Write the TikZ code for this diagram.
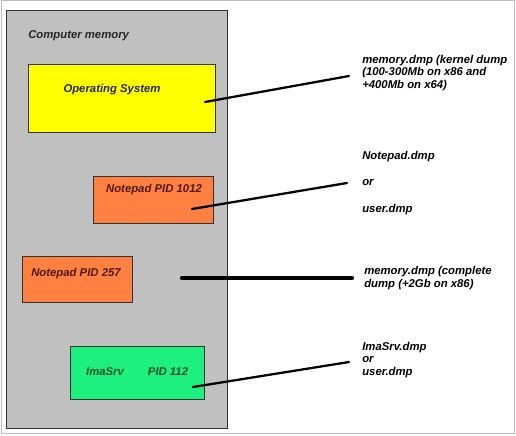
\documentclass[tikz,border=0pt]{standalone}
\usepackage{fontspec}
\setmainfont{Liberation Sans}
\definecolor{memgray}{RGB}{192,192,192}
\definecolor{framegray}{RGB}{190,190,190}
\definecolor{osyellow}{RGB}{255,255,0}
\definecolor{procorange}{RGB}{255,128,64}
\definecolor{srvgreen}{RGB}{30,240,128}
\definecolor{procbrown}{RGB}{80,25,10}
\definecolor{srvdark}{RGB}{10,80,35}
\tikzset{
  lbl/.style={inner sep=0.75pt, font=\fontsize{8.5}{9.6}\selectfont\bfseries\itshape},
  dumplbl/.style={lbl, anchor=west, align=left},
  boxline/.style={draw=black!80, line width=0.6pt},
  dumpline/.style={line width=1.7pt, line cap=round}
}
\begin{document}
\begin{tikzpicture}[x=0.75pt,y=0.75pt,yscale=-1,xscale=1]
    \useasboundingbox (0,0) rectangle (516,435);
    % outer frame
    \draw [framegray, line width=0.75pt] (1,1) rectangle (514,433);
    % Computer memory
    \draw [boxline, fill=memgray] (6,10) rectangle (227,428);
    \node (mem) [lbl, anchor=west, text=black!85] at (27,36) {Computer memory};

    % Boxes
    \draw [boxline, fill=osyellow] (28,64) rectangle (215,132);
    \draw [boxline, fill=procorange] (93,176) rectangle (213,223);
    \draw [boxline, fill=procorange] (22,256) rectangle (132,302);
    \draw [boxline, fill=srvgreen] (70,346) rectangle (204,399);

    % Text Nodes
    \node (os) [lbl, text=black!85] at (112,90) {Operating System};
    \node (np1012) [lbl, text=procbrown] at (154,190) {Notepad PID 1012};
    \node (np257) [lbl, text=procbrown, anchor=west] at (30,274) {Notepad PID 257};
    \node (srv) [lbl, text=srvdark] at (105,372) {ImaSrv};
    \node (srvpid) [lbl, text=srvdark] at (168,372) {PID 112};

    \node (kdump) [dumplbl] at (361,73) {memory.dmp (kernel dump\\(100-300Mb on x86 and\\+400Mb on x64)};
    \node (udump) [dumplbl] at (361,183) {Notepad.dmp\\[10.3pt]or\\[10.3pt]user.dmp};
    \node (cdump) [dumplbl] at (363,278) {memory.dmp (complete\\dump (+2Gb on x86)};
    \node (sdump) [dumplbl] at (361,360) {ImaSrv.dmp\\or\\user.dmp};

    % Straight Lines
    \coordinate (osend) at (205,102);
    \coordinate (kend) at (349,76);
    \coordinate (npend) at (192,209);
    \coordinate (uend) at (347,183);
    \coordinate (fullend) at (182,278);
    \coordinate (cend) at (352,278);
    \coordinate (srvend) at (193,387);
    \coordinate (send) at (349,362);
    \draw [dumpline] (osend) -- (kend);
    \draw [dumpline] (npend) -- (uend);
    \draw [dumpline, line width=3.2pt] (fullend) -- (cend);
    \draw [dumpline] (srvend) -- (send);
\end{tikzpicture}
\end{document}
